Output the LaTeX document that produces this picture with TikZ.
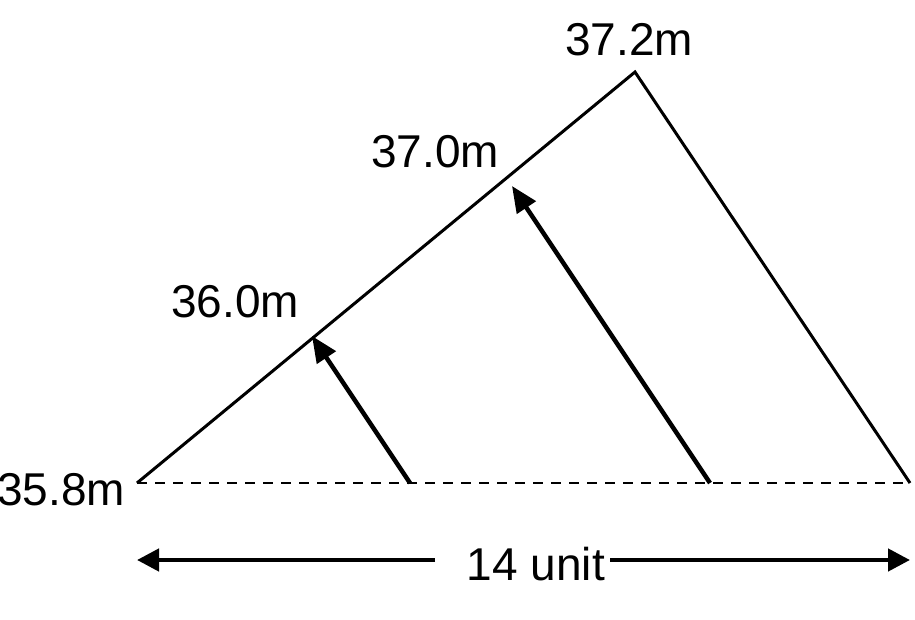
\documentclass[tikz,border=0pt]{standalone}
\usepackage{fontspec}
\setmainfont{Liberation Sans}
\usetikzlibrary{arrows.meta}
\begin{document}
\begin{tikzpicture}[x=1pt,y=-1pt,
  edge/.style={line width=3pt},
  flow/.style={line width=4.5pt,-{Triangle[length=26pt,width=22pt]}},
  dim/.style={line width=4.5pt,-{Triangle[length=22pt,width=22pt]}},
  lbl/.style={font=\fontsize{46}{46}\selectfont,inner sep=0pt}]
\useasboundingbox (0,0) rectangle (915,620);
\coordinate (L) at (137,483);
\coordinate (T) at (635,72);
\coordinate (R) at (910,483);
\coordinate (a1s) at (410,483);
\coordinate (a1e) at (312,336);
\coordinate (a2s) at (710,483);
\coordinate (a2e) at (512,186);
\coordinate (dl) at (137,560);
\coordinate (dr) at (910,560);
\coordinate (dls) at (435,560);
\coordinate (drs) at (610,560);
\draw[edge,line join=miter] (L) -- (T) -- (R);
\draw[line width=2.5pt,dash pattern=on 10pt off 8pt] (L) -- (R);
\draw[flow] (a1s) -- (a1e);
\draw[flow] (a2s) -- (a2e);
\draw[dim] (dls) -- (dl);
\draw[dim] (drs) -- (dr);
\node[lbl] (t1) at (629,40) {37.2m};
\node[lbl] (t2) at (435,152) {37.0m};
\node[lbl] (t3) at (235,302) {36.0m};
\node[lbl] (t4) at (61,490) {35.8m};
\node[lbl] (t5) at (536,564) {14 unit};
\end{tikzpicture}
\end{document}
